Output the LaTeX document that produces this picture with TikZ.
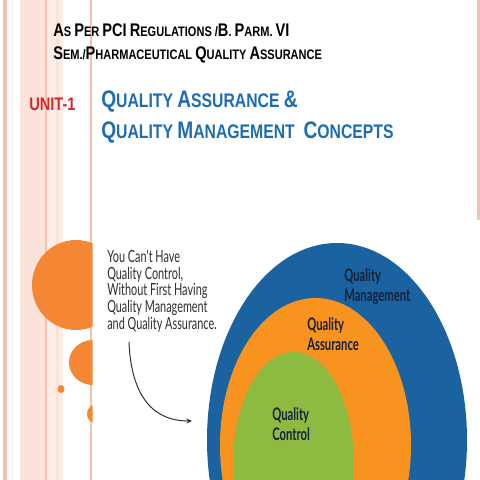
\documentclass[tikz,border=0pt]{standalone}
\usepackage{fontspec}
\usetikzlibrary{arrows.meta}
\setmainfont{Liberation Sans}
\newfontfamily\headfont[FakeStretch=0.8]{Liberation Sans}
\newfontfamily\bodyfont[FakeStretch=0.65]{Lato}
\definecolor{pinkline}{HTML}{F5C2B1}
\definecolor{pinkband}{HTML}{FCE3DA}
\definecolor{pinkpale}{HTML}{FDEDE7}
\definecolor{blobcol}{HTML}{F58634}
\definecolor{unitred}{HTML}{D9262C}
\definecolor{titleblue}{HTML}{1C6DB3}
\definecolor{qmblue}{HTML}{1B63A0}
\definecolor{qaorange}{HTML}{F7931E}
\definecolor{qcgreen}{HTML}{8DBB41}
\definecolor{labelcol}{HTML}{16213A}
\definecolor{quotecol}{HTML}{2E2E2E}
\newcommand\HeadCap[1]{{\fontsize{13}{13}\selectfont #1}}
\newcommand\TitleCap[1]{{\fontsize{17}{17}\selectfont #1}}
\begin{document}
\begin{tikzpicture}[
    x=0.025cm, y=-0.025cm,
    head/.style={anchor=base west, inner sep=0pt, font=\headfont\bfseries\fontsize{9.8}{9.8}\selectfont},
    title/.style={anchor=base west, inner sep=0pt, text=titleblue, font=\headfont\bfseries\fontsize{14}{14}\selectfont},
    lbl/.style={anchor=north west, inner sep=0pt, align=left, text=labelcol, font=\bodyfont\bfseries\fontsize{12.3}{14.2}\selectfont},
    quote/.style={anchor=north west, inner sep=0pt, align=left, text=quotecol, font=\bodyfont\fontsize{11.9}{11.9}\selectfont},
    pointer/.style={draw=quotecol, line width=0.7pt, -{Stealth[length=4pt, width=3.5pt]}}]

    \useasboundingbox (0,0) rectangle (480,480);
    \clip (0,0) rectangle (480,480);

    \fill[pinkline] (3,0) rectangle (6.5,480);
    \fill[pinkpale] (11.5,0) rectangle (13,480);
    \fill[pinkband] (20,0) rectangle (45,480);
    \fill[pinkline] (44.5,0) rectangle (46.5,480);
    \fill[pinkpale] (46.5,0) rectangle (63,480);
    \fill[pinkband] (56,0) rectangle (58.5,480);
    \fill[pinkline] (89.5,0) rectangle (91.5,480);
    \fill[pinkline] (476.5,0) rectangle (479.5,220);

    \begin{scope}
      \clip (0,0) rectangle (92.5,480);
      \fill[blobcol] (76,285) ellipse [x radius=44, y radius=45];
      \fill[blobcol] (93,362.5) ellipse [x radius=24, y radius=22.5];
      \fill[blobcol] (61,389) ellipse [x radius=3.5, y radius=4];
      \fill[blobcol] (95,414) ellipse [x radius=8, y radius=9];
    \end{scope}

    \node[head] (head1) at (53,36) {\HeadCap{A}S \HeadCap{P}ER \HeadCap{PCI} \HeadCap{R}EGULATIONS /\HeadCap{B}. \HeadCap{P}ARM. \HeadCap{VI}};
    \node[head] (head2) at (53,59) {\HeadCap{S}EM./\HeadCap{P}HARMACEUTICAL \HeadCap{Q}UALITY \HeadCap{A}SSURANCE};
    \node[head, text=unitred, font=\headfont\bfseries\fontsize{13}{13}\selectfont] (unit) at (29,110) {UNIT-1};
    \node[title] (title1) at (101,107) {\TitleCap{Q}UALITY \TitleCap{A}SSURANCE \TitleCap{\&}};
    \node[title] (title2) at (101,138) {\TitleCap{Q}UALITY \TitleCap{M}ANAGEMENT \ \TitleCap{C}ONCEPTS};

    \fill[qmblue] (337,440) ellipse [x radius=130, y radius=197];
    \fill[qaorange] (315.5,445) ellipse [x radius=95.5, y radius=147];
    \fill[qcgreen] (293.5,464) ellipse [x radius=60.5, y radius=112];

    \node[lbl] (qm) at (344,268) {Quality\\Management};
    \node[lbl] (qa) at (307,317) {Quality\\Assurance};
    \node[lbl] (qc) at (272,407) {Quality\\Control};

    \node[quote] (note) at (107,250) {You Can't Have\\Quality Control,\\Without First Having\\Quality Management\\and Quality Assurance.};

    \coordinate (from) at (129,342);
    \coordinate (to) at (192,421);
    \draw[pointer] (from) .. controls (131,392) and (150,421) .. (to);
  \end{tikzpicture}
\end{document}
